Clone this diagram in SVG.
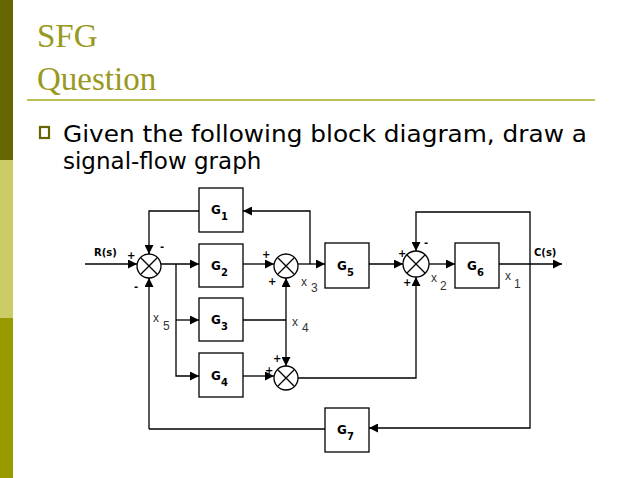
<svg xmlns="http://www.w3.org/2000/svg" width="638" height="478" viewBox="0 0 638 478">
<defs>
<marker id="ar" viewBox="0 0 10 10" refX="10" refY="5" markerWidth="9" markerHeight="9" markerUnits="userSpaceOnUse" orient="auto"><path d="M0,0L10,5L0,10z" fill="#000"/></marker>
<style>
.w{fill:none;stroke:#000;stroke-width:1.3}
.b{fill:#fff;stroke:#000;stroke-width:1.3}
.g{font-family:"DejaVu Sans",sans-serif;font-weight:bold;font-size:12px}
.s{font-family:"DejaVu Sans",sans-serif;font-weight:bold;font-size:10px}
.x{font-family:"Liberation Sans",sans-serif;font-size:12px;fill:#333}
.p{font-family:"DejaVu Sans",sans-serif;font-weight:bold;font-size:10px}
</style>
</defs>
<rect width="638" height="478" fill="#fff"/>
<rect x="0" y="0" width="13" height="160" fill="#666600"/>
<rect x="0" y="160" width="13" height="158" fill="#CCCC66"/>
<rect x="0" y="318" width="13" height="160" fill="#999900"/>
<text x="37" y="47" font-family="Liberation Serif,serif" font-size="33" fill="#999922">SFG</text>
<text x="37" y="90" font-family="Liberation Serif,serif" font-size="33" fill="#999922">Question</text>
<line x1="27" y1="100" x2="595" y2="100" stroke="#AAAA22" stroke-width="1.5"/>
<rect x="40" y="127" width="9" height="11" fill="none" stroke="#666600" stroke-width="2.2"/>
<text x="63" y="142" font-family="DejaVu Sans,sans-serif" font-size="23" fill="#000" textLength="524" lengthAdjust="spacingAndGlyphs">Given the following block diagram, draw a</text>
<text x="63" y="169" font-family="DejaVu Sans,sans-serif" font-size="23" fill="#000">signal-flow graph</text>

<g id="connectors">
<path class="w" d="M85,264H137" marker-end="url(#ar)"/>
<path class="w" d="M199,211H149V254" marker-end="url(#ar)"/>
<path class="w" d="M149,429V278" marker-end="url(#ar)"/>
<path class="w" d="M161,264H199" marker-end="url(#ar)"/>
<path class="w" d="M176,264V376H199" marker-end="url(#ar)"/>
<path class="w" d="M176,320H199" marker-end="url(#ar)"/>
<path class="w" d="M243,264H274" marker-end="url(#ar)"/>
<path class="w" d="M243,320H286"/>
<path class="w" d="M286,320V278" marker-end="url(#ar)"/>
<path class="w" d="M286,320V366" marker-end="url(#ar)"/>
<path class="w" d="M243,376H274" marker-end="url(#ar)"/>
<path class="w" d="M298,264H325" marker-end="url(#ar)"/>
<path class="w" d="M310,264V211H243" marker-end="url(#ar)"/>
<path class="w" d="M369,264H403" marker-end="url(#ar)"/>
<path class="w" d="M298,378H416V277" marker-end="url(#ar)"/>
<path class="w" d="M429,264H455" marker-end="url(#ar)"/>
<path class="w" d="M499,264H562" marker-end="url(#ar)"/>
<path class="w" d="M530,264V212H416V251" marker-end="url(#ar)"/>
<path class="w" d="M530,264V428H369" marker-end="url(#ar)"/>
<path class="w" d="M325,429H149"/>
</g>

<g id="G1"><rect class="b" x="199" y="188" width="44" height="44"/><text class="g" x="211" y="214">G</text><text class="s" x="221" y="220">1</text></g>
<g id="G2"><rect class="b" x="199" y="244" width="44" height="43"/><text class="g" x="211" y="270">G</text><text class="s" x="221" y="276">2</text></g>
<g id="G3"><rect class="b" x="199" y="298" width="44" height="43"/><text class="g" x="211" y="324">G</text><text class="s" x="221" y="330">3</text></g>
<g id="G4"><rect class="b" x="199" y="353" width="44" height="44"/><text class="g" x="211" y="380">G</text><text class="s" x="221" y="386">4</text></g>
<g id="G5"><rect class="b" x="325" y="243" width="44" height="45"/><text class="g" x="337" y="270">G</text><text class="s" x="347" y="276">5</text></g>
<g id="G6"><rect class="b" x="455" y="243" width="44" height="45"/><text class="g" x="467" y="270">G</text><text class="s" x="477" y="276">6</text></g>
<g id="G7"><rect class="b" x="325" y="408" width="44" height="44"/><text class="g" x="337" y="434">G</text><text class="s" x="347" y="440">7</text></g>

<g id="S1"><circle class="b" cx="149" cy="266" r="12"/><path class="w" d="M141,258L157,274M157,258L141,274"/><text class="p" x="127" y="259">+</text><text class="p" x="160" y="250">-</text><text class="p" x="134" y="290">-</text></g>
<g id="S2"><circle class="b" cx="286" cy="266" r="12"/><path class="w" d="M278,258L294,274M294,258L278,274"/><text class="p" x="262" y="258">+</text><text class="p" x="268" y="285">+</text></g>
<g id="S3"><circle class="b" cx="286" cy="378" r="12"/><path class="w" d="M278,370L294,386M294,370L278,386"/><text class="p" x="273" y="362">+</text><text class="p" x="265" y="374">+</text></g>
<g id="S4"><circle class="b" cx="416" cy="264" r="13"/><path class="w" d="M407,255L425,273M425,255L407,273"/><text class="p" x="398" y="257">+</text><text class="p" x="424" y="246">-</text><text class="p" x="403" y="286">+</text></g>

<g id="labels">
<text class="p" x="94" y="256">R(s)</text>
<text class="p" x="534" y="256">C(s)</text>
<text class="x" x="301" y="286">x</text><text class="x" x="311" y="292">3</text>
<text class="x" x="292" y="326">x</text><text class="x" x="302" y="332">4</text>
<text class="x" x="153" y="322">x</text><text class="x" x="163" y="330">5</text>
<text class="x" x="431" y="282">x</text><text class="x" x="440" y="290">2</text>
<text class="x" x="505" y="280">x</text><text class="x" x="514" y="288">1</text>
</g>
</svg>
